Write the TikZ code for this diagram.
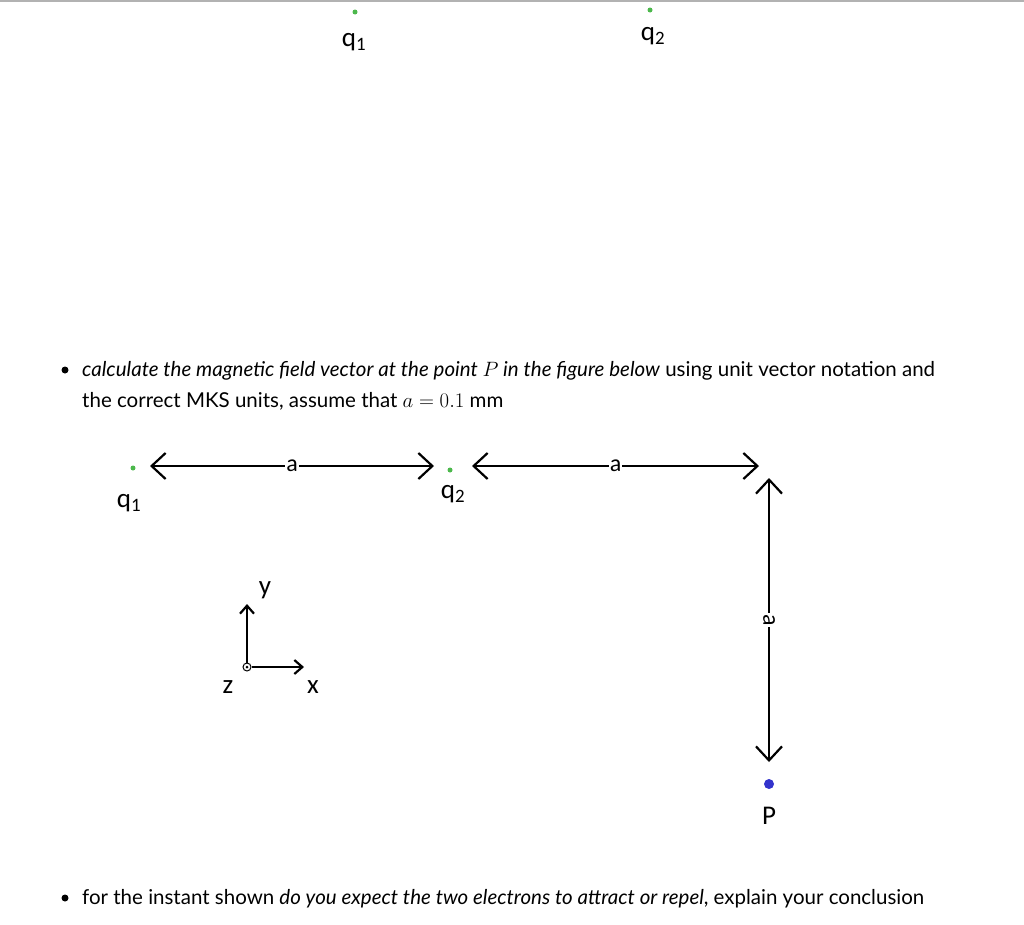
\documentclass[tikz,border=0pt]{standalone}
\usepackage{fontspec}
\setmainfont{Lato}
\newfontfamily\lbl{Carlito}
\usetikzlibrary{arrows.meta}
\tikzset{
  dbl/.style={line width=2.2pt,{Straight Barb[length=14pt,width=26pt,line width=2.2pt]}-{Straight Barb[length=14pt,width=26pt,line width=2.2pt]}},
  ax/.style={line width=2.2pt,-{Straight Barb[length=8pt,width=14pt,line width=2.2pt]}},
  gdot/.style={circle,fill=green!60!black!70,inner sep=0pt,minimum size=5pt},
  qlab/.style={font=\lbl\fontsize{27}{30}\selectfont,inner sep=0pt},
  alab/.style={font=\lbl\fontsize{24}{26}\selectfont,fill=white,inner sep=1pt},
  body/.style={font=\fontsize{20.5}{30}\selectfont,anchor=base west,inner sep=0pt}
}
\newcommand{\qq}[1]{q\textsubscript{#1}}
\begin{document}
\begin{tikzpicture}[x=1pt,y=-1pt]
\useasboundingbox (0,0) rectangle (1024,924);
\draw[gray!60,line width=1.5pt] (0,1) -- (1024,1);
% top
\node[gdot] (t1) at (355,12) {};
\node[qlab] (tq1) at (354,42) {\qq{1}};
\node[gdot] (t2) at (650,10) {};
\node[qlab] (tq2) at (653,36) {\qq{2}};
% text
\node[circle,fill=black,inner sep=0pt,minimum size=7pt] (b1) at (65,370) {};
\node[body] (l1) at (82,376) {\textit{calculate the magnetic field vector at the point $P$ in the figure below} using unit vector notation and};
\node[body] (l2) at (82,407) {the correct MKS units, assume that $a = 0.1$ mm};
% row
\node[gdot] (q1) at (133,468) {};
\node[qlab] (q1l) at (129,503) {\qq{1}};
\node[gdot] (q2) at (450,470) {};
\node[qlab] (q2l) at (453,494) {\qq{2}};
\coordinate (a1) at (150,466); \coordinate (a2) at (434,466);
\coordinate (b1s) at (472,466); \coordinate (b2s) at (759,466);
\draw[dbl] (a1) -- node[alab] {a} (a2);
\draw[dbl] (b1s) -- node[alab] {a} (b2s);
\coordinate (v1) at (769,478); \coordinate (v2) at (769,762);
\draw[dbl] (v1) -- node[alab,rotate=-90] {a} (v2);
\node[circle,fill=blue!75!black!80,inner sep=0pt,minimum size=10pt] (P) at (769,784) {};
\node[qlab] (Pl) at (769,816) {P};
% axes
\node[circle,draw,line width=1pt,inner sep=0pt,minimum size=8pt] (o) at (247,667) {};
\fill (o.center) circle (1.5pt);
\coordinate (ye) at (247,604); \coordinate (xe) at (304,667);
\draw[ax] (o.north) -- (ye);
\draw[ax] (o.east) -- (xe);
\node[qlab] (yl) at (265,590) {y};
\node[qlab] (xl) at (313,687) {x};
\node[qlab] (zl) at (228,687) {z};
% bottom
\node[circle,fill=black,inner sep=0pt,minimum size=7pt] (b2) at (65,898) {};
\node[body] (l3) at (82,904) {for the instant shown \textit{do you expect the two electrons to attract or repel}, explain your conclusion};
\end{tikzpicture}
\end{document}
